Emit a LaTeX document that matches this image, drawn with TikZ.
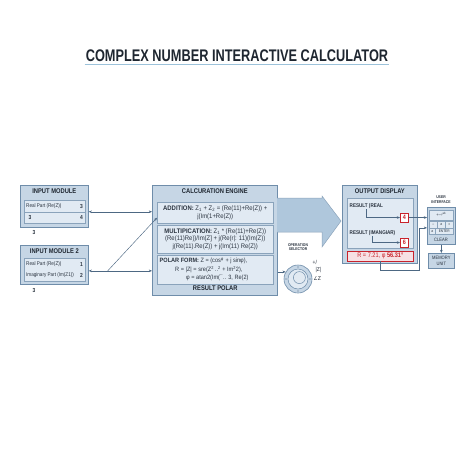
\documentclass[tikz,border=0pt]{standalone}
\usepackage{fontspec}
\setmainfont{Liberation Sans}
\newfontfamily\condfont{Liberation Sans}[FakeStretch=0.76]
\newfontfamily\narrowfont{Liberation Sans}[FakeStretch=0.85]
\newfontfamily\formfont{Liberation Sans}[FakeStretch=0.9]
\newfontfamily\symfont{DejaVu Sans}[FakeStretch=0.85]
\usetikzlibrary{arrows.meta,positioning}

\definecolor{modfill}{HTML}{C6D6E5}
\definecolor{modline}{HTML}{6F8DAA}
\definecolor{panfill}{HTML}{E1EAF3}
\definecolor{panline}{HTML}{8AA3BB}
\definecolor{arrowfill}{HTML}{AFC7DC}
\definecolor{wirecol}{HTML}{4D6883}
\definecolor{headtext}{HTML}{1E2630}
\definecolor{bodytext}{HTML}{2B3440}
\definecolor{resred}{HTML}{C8232C}
\definecolor{resfill}{HTML}{F6E1E4}
\definecolor{titleline}{HTML}{9CC2DA}

\begin{document}
\begin{tikzpicture}[x=1pt,y=-1pt,
    module/.style={rectangle, draw=modline, fill=modfill, line width=0.7pt, inner sep=0pt, anchor=north west},
    panel/.style={rectangle, draw=panline, fill=panfill, line width=0.5pt, inner sep=0pt, anchor=north west},
    heading/.style={inner sep=1pt, text=headtext, font=\narrowfont\bfseries\fontsize{6.8}{7}\selectfont},
    small/.style={inner sep=0.5pt, text=bodytext, font=\narrowfont\fontsize{5.4}{6}\selectfont},
    digit/.style={inner sep=0.5pt, text=bodytext, font=\narrowfont\bfseries\fontsize{5.8}{6}\selectfont},
    formula/.style={inner sep=0.5pt, text=bodytext, align=center, font=\formfont\fontsize{6.6}{7.2}\selectfont},
    polar/.style={inner sep=0pt, text=bodytext, anchor=west, font=\formfont\fontsize{6.2}{6.6}\selectfont},
    tag/.style={inner sep=0.5pt, text=bodytext, align=center, font=\narrowfont\bfseries\fontsize{4}{4.6}\selectfont},
    wire/.style={draw=wirecol, line width=0.45pt},
    tip/.style={-{Stealth[length=3.2pt,width=2.6pt]}},
    twotip/.style={{Stealth[length=3.2pt,width=2.6pt]}-{Stealth[length=3.2pt,width=2.6pt]}},
    redbox/.style={rectangle, draw=resred, line width=0.6pt, fill=white, text=resred, inner sep=0pt, anchor=north west, font=\narrowfont\bfseries\fontsize{6.4}{6.4}\selectfont}]

    \useasboundingbox[fill=white] (0,0) rectangle (474,474);

    % Title
    \node[inner sep=1pt, text=headtext, font=\condfont\bfseries\fontsize{16.8}{18}\selectfont] (title) at (237,56) {COMPLEX NUMBER INTERACTIVE CALCULATOR};
    \draw[titleline, line width=0.8pt] ([yshift=-1pt]title.south west) -- ([yshift=-1pt]title.south east);

    % Input modules
    \node[module, minimum width=68pt, minimum height=42pt] (inone) at (20,185) {};
    \node[heading, below=3pt of inone.north] {INPUT MODULE};
    \node[panel, minimum width=61pt, minimum height=23pt] (inonep) at (24,200) {};
    \draw[panline, line width=0.5pt] (inonep.west) -- (inonep.east);
    \node[small, anchor=west] (reone) at ([xshift=1.5pt,yshift=5.5pt]inonep.west) {Real Part (Re(Z))};
    \node[digit, anchor=east] (reoneval) at ([xshift=-2pt,yshift=5.5pt]inonep.east) {3};
    \node[digit, anchor=west] (imone) at ([xshift=4pt,yshift=-5.5pt]inonep.west) {3};
    \node[digit, anchor=east] (imoneval) at ([xshift=-2pt,yshift=-5.5pt]inonep.east) {4};
    \node[digit] (noteone) at (34,233) {3};

    \node[module, minimum width=68pt, minimum height=39pt] (intwo) at (20,245) {};
    \node[heading, below=3pt of intwo.north] {INPUT MODULE 2};
    \node[panel, minimum width=61pt, minimum height=23pt] (intwop) at (24,258) {};
    \node[small, anchor=west] (retwo) at ([xshift=1.5pt,yshift=5.5pt]intwop.west) {Real Part (Re(Z))};
    \node[digit, anchor=east] (retwoval) at ([xshift=-2pt,yshift=5.5pt]intwop.east) {1};
    \node[small, anchor=west] (imtwo) at ([xshift=1.5pt,yshift=-5.5pt]intwop.west) {Imaginary Part (Im(Z1))};
    \node[digit, anchor=east] (imtwoval) at ([xshift=-2pt,yshift=-5.5pt]intwop.east) {2};
    \node[digit] (notetwo) at (34,291) {3};

    % Calculation engine
    \node[module, minimum width=125pt, minimum height=110pt] (calc) at (152,185) {};
    \node[heading, below=3pt of calc.north] {CALCURATION ENGINE};
    \node[panel, minimum width=116pt, minimum height=21pt] (addbox) at (157,202) {};
    \node[formula] (addtext) at (addbox.center) {\textbf{ADDITION:} Z\textsubscript{1} + Z\textsubscript{2} = (Re(11)+Re(Z)) +\\j(Im(1+Re(Z))};
    \node[panel, minimum width=116pt, minimum height=28pt] (mulbox) at (157,225) {};
    \node[formula] (multext) at (mulbox.center) {\textbf{MULTIPICATION:} Z\textsubscript{1} * (Re(11)+Re(Z))\\(Re(11)Re))/Im(Z] + j(Re(r|: 11)(Im(Z))\\j(Re(11).Re(Z)) + j(Im(11) Re(Z))};
    \node[panel, minimum width=116pt, minimum height=29pt] (polbox) at (157,255) {};
    \node[polar] (polone) at ([xshift=2.5pt,yshift=-6pt]polbox.north west) {\textbf{POLAR FORM:} Z = (cos\textsuperscript{φ} + j sinφ),};
    \node[polar] (poltwo) at ([xshift=18pt,yshift=-14.5pt]polbox.north west) {R = |Z| = sre(Z\textsuperscript{2}\,..\textsuperscript{2} + Im\textsuperscript{2}2),};
    \node[polar] (polthree) at ([xshift=29pt,yshift=-22.5pt]polbox.north west) {φ = atan2(Im(\textsuperscript{--}.. 3, Re(2)};
    \node[heading, below=0.5pt of polbox.south] (polhead) {RESULT POLAR};

    % Big arrow
    \draw[fill=arrowfill, draw=modline!80, line width=0.5pt] (277,198) -- (322,198) -- (322,196) -- (341,221) -- (322,247) -- (322,232) -- (277,232);

    % Operation selector
    \node[tag] (oplabel) at (298,247) {OPERATION\\SELECTOR};
    \node[circle, draw=modline, fill=modfill, line width=0.6pt, minimum size=28pt, inner sep=0pt] (dial) at (298,279) {};
    \draw[modline, fill=panfill, line width=0.5pt] (dial.center) circle (10pt);
    \draw[modline, fill=modfill!50!white, line width=0.5pt] ([shift={(45:2pt)}]dial.center) circle (6pt);
    \foreach \a in {0,90,180,270} {
        \fill[wirecol] ([shift={(\a:12pt)}]dial.center) circle (0.7pt);
    }
    \node[small, anchor=west, font=\narrowfont\fontsize{5.8}{6}\selectfont] (opadd) at (312,262) {+/};
    \node[small, anchor=west, font=\narrowfont\fontsize{5.8}{6}\selectfont] (opabs) at (315,270) {|Z|};
    \node[small, anchor=west, font=\symfont\fontsize{5.4}{6}\selectfont] (oparg) at (313,279) {∠Z};

    % Output display
    \node[module, minimum width=75pt, minimum height=78pt] (outdisp) at (342,185) {};
    \node[heading, below=3pt of outdisp.north] {OUTPUT DISPLAY};
    \node[panel, minimum width=66pt, minimum height=50pt] (outp) at (347,198) {};
    \node[tag, anchor=west, font=\narrowfont\bfseries\fontsize{5.4}{6}\selectfont] (lblre) at (349,206) {RESULT (REAL};
    \node[tag, anchor=west, font=\narrowfont\bfseries\fontsize{5.4}{6}\selectfont] (lblim) at (349,233) {RESULT (IMANGIAR)};
    \node[redbox, minimum width=8pt, minimum height=8.5pt] (boxre) at (400,213) {4};
    \node[redbox, minimum width=8pt, minimum height=8.5pt] (boxim) at (400,238) {6};
    \node[redbox, fill=resfill, minimum width=66pt, minimum height=10pt, font=\narrowfont\fontsize{6.6}{6.6}\selectfont] (polres) at (347,250.5) {R = 7.21, φ \textbf{56.31°}};
    \draw[wire, tip] (lblre.south) |- (boxre.west);
    \draw[wire, tip] (lblim.south) |- (boxim.west);

    % User interface
    \node[tag] (uilabel) at (441,199.5) {USER\\INTERFACE};
    \node[module, minimum width=28pt, minimum height=37pt] (ui) at (427,207) {};
    \node[panel, minimum width=24pt, minimum height=10pt, font=\narrowfont\fontsize{4.4}{4.4}\selectfont, text=bodytext] (uidisp) at (429,209.5) {+–÷\textsuperscript{ab}};
    \foreach \i/\lab in {0/–,1/a,2/=} {
        \node[panel, minimum width=8pt, minimum height=6.5pt, font=\narrowfont\fontsize{3.8}{4}\selectfont, text=bodytext] (key\i) at (429+8*\i,221) {\lab};
    }
    \node[panel, minimum width=6pt, minimum height=6.5pt, font=\narrowfont\fontsize{3.8}{4}\selectfont, text=bodytext] (keya) at (429,227.5) {a};
    \node[panel, minimum width=18pt, minimum height=6.5pt, font=\narrowfont\fontsize{3.8}{4}\selectfont, text=bodytext] (keyenter) at (435,227.5) {ENTER};
    \node[tag, font=\narrowfont\fontsize{4.8}{5}\selectfont] (keyclear) at (441,239.5) {CLEAR};
    \node[module, minimum width=26pt, minimum height=15pt, align=center, text=bodytext, font=\narrowfont\fontsize{4.8}{5.4}\selectfont] (mem) at (428,253) {MEMORY\\UNIT};
    \draw[wire, tip] (ui.south) -- (mem.north);

    % Connectors
    \draw[wire, twotip] (inone.east |- inonep.east) -- (calc.west |- inonep.east);
    \coordinate (lowin) at ([yshift=-6pt]intwo.east);
    \draw[wire, twotip] (lowin) -- (lowin -| calc.west);
    \coordinate (split) at ([xshift=19pt]lowin);
    \draw[wire, tip] (split) -- ([yshift=-5pt]addbox.west);
    \draw[wire, tip] (calc.east |- dial.150) -- (dial.150);
    \draw[wire, tip] (boxre.east) -- (boxre.east -| ui.west);
    \coordinate (bend) at (419,270);
    \draw[wire, tip] (polres.south) |- (bend) |- ([yshift=-2pt]ui.west);
\end{tikzpicture}
\end{document}
